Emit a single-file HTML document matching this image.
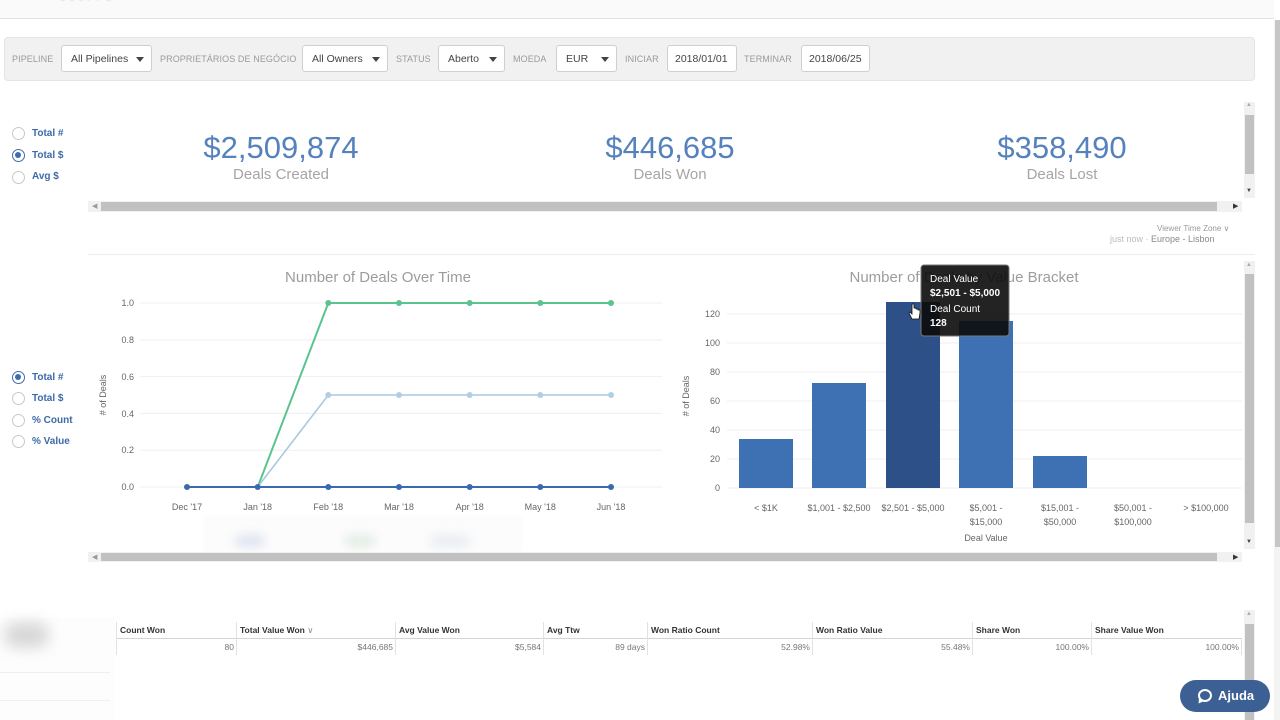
<!DOCTYPE html>
<html><head><meta charset="utf-8">
<style>
*{margin:0;padding:0;box-sizing:border-box}
body{width:1280px;height:720px;overflow:hidden;background:#fff;font-family:"Liberation Sans",Arial,sans-serif;position:relative}
.a{position:absolute}
.lbl{position:absolute;font-size:9px;color:#9a9a9a;top:54px;letter-spacing:0.1px}
.sel{position:absolute;top:45px;height:27px;background:#fff;border:1px solid #cfcfcf;border-radius:3px;font-size:10.5px;color:#444;line-height:26px;padding-left:9px}
.sel .c{position:absolute;right:7px;top:11px;width:0;height:0;border-left:4px solid transparent;border-right:4px solid transparent;border-top:5px solid #444}
.rad{position:absolute;left:12px;width:13px;height:13px;border:1px solid #c8c8c8;border-radius:50%;background:#fff}
.rad.on{border:1.5px solid #3d6db0}
.rad.on:after{content:"";position:absolute;left:2px;top:2px;width:6px;height:6px;border-radius:50%;background:#3d6db0}
.rl{position:absolute;left:32px;font-size:10px;font-weight:bold;color:#3d6aa8}
.big{position:absolute;width:300px;text-align:center;font-size:31px;color:#5582bd;top:130px}
.sub{position:absolute;width:300px;text-align:center;font-size:15px;color:#a5a5a5;top:166px}
.hs{position:absolute;left:88px;width:1154px;height:11px;background:#f1f1f1}
.hs .t{position:absolute;left:13px;right:25px;top:1px;bottom:1px;background:#c1c1c1}
.vs{position:absolute;left:1244px;width:11px;background:#f1f1f1}
.vs .t{position:absolute;left:1px;right:1px;background:#c1c1c1}
.th{position:absolute;top:622px;height:17px;font-size:8.5px;font-weight:bold;color:#333;line-height:17px;padding-left:3px;border-left:1px solid #e2e2e2}
.td{position:absolute;top:639px;height:16px;font-size:8.5px;color:#777;line-height:16px;text-align:right;padding-right:2px;border-left:1px solid #e2e2e2}
</style></head><body>

<!-- header -->
<div class="a" style="left:0;top:0;width:1274px;height:19px;background:#fafafa;border-bottom:1px solid #e2e2e2"></div>
<div class="a" style="left:60px;top:-11px;font-size:11px;color:#c4c4c4;filter:blur(0.8px)">g g  g   p  p    g</div>

<!-- filter bar -->
<div class="a" style="left:4px;top:37px;width:1251px;height:44px;background:#f1f1f1;border:1px solid #e4e4e4;border-radius:4px"></div>
<div class="lbl" style="left:12px">PIPELINE</div>
<div class="sel" style="left:61px;width:91px">All Pipelines<span class="c"></span></div>
<div class="lbl" style="left:160px">PROPRIETÁRIOS DE NEGÓCIO</div>
<div class="sel" style="left:302px;width:86px">All Owners<span class="c"></span></div>
<div class="lbl" style="left:396px">STATUS</div>
<div class="sel" style="left:438px;width:67px">Aberto<span class="c"></span></div>
<div class="lbl" style="left:513px">MOEDA</div>
<div class="sel" style="left:556px;width:61px">EUR<span class="c"></span></div>
<div class="lbl" style="left:625px">INICIAR</div>
<div class="sel" style="left:667px;width:70px;padding-left:7px">2018/01/01</div>
<div class="lbl" style="left:744px">TERMINAR</div>
<div class="sel" style="left:801px;width:69px;padding-left:7px">2018/06/25</div>

<!-- page scrollbar -->
<div class="a" style="left:1274px;top:20px;width:6px;height:700px;background:#f3f3f3"></div>
<div class="a" style="left:1275px;top:20px;width:5px;height:527px;background:#c6c6c6"></div>

<!-- radios group 1 -->
<div class="rad" style="top:127px"></div><div class="rl" style="top:128px">Total #</div>
<div class="rad on" style="top:149px"></div><div class="rl" style="top:150px">Total $</div>
<div class="rad" style="top:171px"></div><div class="rl" style="top:171px">Avg $</div>

<!-- summary numbers -->
<div class="big" style="left:131px">$2,509,874</div>
<div class="sub" style="left:131px">Deals Created</div>
<div class="big" style="left:520px">$446,685</div>
<div class="sub" style="left:520px">Deals Won</div>
<div class="big" style="left:912px">$358,490</div>
<div class="sub" style="left:912px">Deals Lost</div>

<div class="hs" style="top:201px"><div class="t"></div></div>
<div class="a" style="left:92px;top:202px;font-size:7px;color:#999">◀</div>
<div class="a" style="left:1233px;top:202px;font-size:7px;color:#333">▶</div>
<div class="vs" style="top:102px;height:96px"><div class="t" style="top:13px;bottom:24px"></div></div>
<div class="a" style="left:1246px;top:102px;font-size:6px;color:#aaa">▲</div>
<div class="a" style="left:1246px;top:188px;font-size:6px;color:#444">▼</div>

<!-- time zone -->
<div class="a" style="left:1157px;top:224px;font-size:8px;color:#999">Viewer Time Zone ∨</div>
<div class="a" style="left:1110px;top:234px;font-size:9px;color:#bbb">just now · <span style="color:#888">Europe - Lisbon</span></div>
<div class="a" style="left:88px;top:254px;width:1167px;height:1px;background:#ececec"></div>

<!-- radios group 2 -->
<div class="rad on" style="top:371px"></div><div class="rl" style="top:372px">Total #</div>
<div class="rad" style="top:392px"></div><div class="rl" style="top:393px">Total $</div>
<div class="rad" style="top:414px"></div><div class="rl" style="top:415px">% Count</div>
<div class="rad" style="top:435px"></div><div class="rl" style="top:436px">% Value</div>

<!-- blurred legend -->
<div class="a" style="left:204px;top:516px;width:318px;height:36px;background:#fcfcfc;filter:blur(1px)"></div>
<div class="a" style="left:235px;top:535px;width:30px;height:12px;border-radius:6px;background:#dde3f0;filter:blur(5px)"></div>
<div class="a" style="left:345px;top:535px;width:30px;height:12px;border-radius:6px;background:#e1ede4;filter:blur(5px)"></div>
<div class="a" style="left:430px;top:535px;width:40px;height:12px;border-radius:6px;background:#e8ecf2;filter:blur(5px)"></div>

<div class="hs" style="top:552px;height:10px"><div class="t"></div></div>
<div class="a" style="left:92px;top:553px;font-size:7px;color:#999">◀</div>
<div class="a" style="left:1233px;top:553px;font-size:7px;color:#333">▶</div>
<div class="vs" style="top:261px;height:288px"><div class="t" style="top:13px;bottom:26px"></div></div>
<div class="a" style="left:1246px;top:262px;font-size:6px;color:#aaa">▲</div>
<div class="a" style="left:1246px;top:539px;font-size:6px;color:#444">▼</div>

<svg class="a" style="left:0;top:0" width="1280" height="720" xmlns="http://www.w3.org/2000/svg" font-family="Liberation Sans, Arial, sans-serif">
 <!-- line chart -->
 <text x="378" y="282" text-anchor="middle" font-size="15" fill="#9c9c9c">Number of Deals Over Time</text>
 <g stroke="#efefef" stroke-width="1">
  <line x1="140" x2="662" y1="303" y2="303"/><line x1="140" x2="662" y1="340" y2="340"/>
  <line x1="140" x2="662" y1="376.6" y2="376.6"/><line x1="140" x2="662" y1="413.4" y2="413.4"/>
  <line x1="140" x2="662" y1="450.2" y2="450.2"/><line x1="140" x2="662" y1="487" y2="487"/>
 </g>
 <g font-size="9" fill="#666" text-anchor="end">
  <text x="134" y="306">1.0</text><text x="134" y="343">0.8</text><text x="134" y="380">0.6</text>
  <text x="134" y="417">0.4</text><text x="134" y="453">0.2</text><text x="134" y="490">0.0</text>
 </g>
 <text transform="translate(106,395) rotate(-90)" text-anchor="middle" font-size="9" fill="#666"># of Deals</text>
 <g font-size="9" fill="#666" text-anchor="middle">
  <text x="187" y="510">Dec '17</text><text x="257.7" y="510">Jan '18</text><text x="328.3" y="510">Feb '18</text>
  <text x="399" y="510">Mar '18</text><text x="469.7" y="510">Apr '18</text><text x="540.3" y="510">May '18</text><text x="611" y="510">Jun '18</text>
 </g>
 <polyline fill="none" stroke="#5ac48e" stroke-width="2" points="257.7,487 328.3,303 399,303 469.7,303 540.3,303 611,303"/>
 <g fill="#5ac48e"><circle cx="328.3" cy="303" r="3"/><circle cx="399" cy="303" r="3"/><circle cx="469.7" cy="303" r="3"/><circle cx="540.3" cy="303" r="3"/><circle cx="611" cy="303" r="3"/></g>
 <polyline fill="none" stroke="#a8c9e1" stroke-width="1.6" points="257.7,487 328.3,395 399,395 469.7,395 540.3,395 611,395"/>
 <g fill="#b0cfe5"><circle cx="328.3" cy="395" r="3"/><circle cx="399" cy="395" r="3"/><circle cx="469.7" cy="395" r="3"/><circle cx="540.3" cy="395" r="3"/><circle cx="611" cy="395" r="3"/></g>
 <line x1="187" x2="611" y1="487" y2="487" stroke="#3a69b0" stroke-width="2"/>
 <g fill="#3a69b0"><circle cx="187" cy="487" r="3"/><circle cx="257.7" cy="487" r="3"/><circle cx="328.3" cy="487" r="3"/><circle cx="399" cy="487" r="3"/><circle cx="469.7" cy="487" r="3"/><circle cx="540.3" cy="487" r="3"/><circle cx="611" cy="487" r="3"/></g>

 <!-- bar chart -->
 <text x="964" y="282" text-anchor="middle" font-size="15" fill="#9c9c9c">Number of Deals by Value Bracket</text>
 <g stroke="#efefef" stroke-width="1">
  <line x1="727" x2="1242" y1="314" y2="314"/><line x1="727" x2="1242" y1="343" y2="343"/>
  <line x1="727" x2="1242" y1="372" y2="372"/><line x1="727" x2="1242" y1="401" y2="401"/>
  <line x1="727" x2="1242" y1="430" y2="430"/><line x1="727" x2="1242" y1="459" y2="459"/>
  <line x1="727" x2="1242" y1="488" y2="488"/>
 </g>
 <g font-size="9" fill="#666" text-anchor="end">
  <text x="720" y="317">120</text><text x="720" y="346">100</text><text x="720" y="375">80</text>
  <text x="720" y="404">60</text><text x="720" y="433">40</text><text x="720" y="462">20</text><text x="720" y="491">0</text>
 </g>
 <text transform="translate(689,396) rotate(-90)" text-anchor="middle" font-size="9" fill="#666"># of Deals</text>
 <rect x="739" y="439" width="54" height="49" fill="#3e70b4"/>
 <rect x="812" y="383" width="54" height="105" fill="#3e70b4"/>
 <rect x="886" y="302" width="54" height="186" fill="#2d5089"/>
 <rect x="959" y="321" width="54" height="167" fill="#3e70b4"/>
 <rect x="1033" y="456" width="54" height="32" fill="#3e70b4"/>
 <g font-size="9" fill="#666" text-anchor="middle">
  <text x="766" y="511">&lt; $1K</text>
  <text x="839" y="511">$1,001 - $2,500</text>
  <text x="913" y="511">$2,501 - $5,000</text>
  <text x="986" y="511">$5,001 -</text><text x="986" y="525">$15,000</text>
  <text x="1060" y="511">$15,001 -</text><text x="1060" y="525">$50,000</text>
  <text x="1133" y="511">$50,001 -</text><text x="1133" y="525">$100,000</text>
  <text x="1206" y="511">&gt; $100,000</text>
  <text x="986" y="541">Deal Value</text>
 </g>
 <!-- cursor -->
 <path d="M912,304 l0,10 l-2,-2 l-1,1 l3,6 l7,0 l1,-6 l0,-3 l-2,0 l0,-1 l-2,0 l0,-1 l-2,0 l0,-4 z" fill="#fff" stroke="#111" stroke-width="0.8"/>
 <!-- tooltip -->
 <rect x="921" y="265" width="88" height="71" rx="3" fill="#0b0b0b" fill-opacity="0.9" stroke="#777" stroke-width="1"/>
 <g font-size="10" fill="#fff">
  <text x="930" y="282">Deal Value</text>
  <text x="930" y="296" font-weight="bold">$2,501 - $5,000</text>
  <text x="930" y="312">Deal Count</text>
  <text x="930" y="326" font-weight="bold">128</text>
 </g>
</svg>

<!-- table -->
<div class="a" style="left:0;top:618px;width:115px;height:102px;background:#fdfdfd"></div>
<div class="a" style="left:4px;top:622px;width:45px;height:26px;border-radius:12px;background:#d8d8d8;filter:blur(7px)"></div>
<div class="a" style="left:0;top:672px;width:110px;height:1px;background:#f0f0f0"></div>
<div class="a" style="left:0;top:700px;width:110px;height:1px;background:#f0f0f0"></div>
<div class="a" style="left:116px;top:638px;width:1126px;height:1px;background:#d4d4d4"></div>

<div class="th" style="left:116px;width:120px">Count Won</div>
<div class="th" style="left:236px;width:159px">Total Value Won <span style="font-weight:normal;color:#888">∨</span></div>
<div class="th" style="left:395px;width:148px">Avg Value Won</div>
<div class="th" style="left:543px;width:104px">Avg Ttw</div>
<div class="th" style="left:647px;width:165px">Won Ratio Count</div>
<div class="th" style="left:812px;width:160px">Won Ratio Value</div>
<div class="th" style="left:972px;width:119px">Share Won</div>
<div class="th" style="left:1091px;width:151px">Share Value Won</div>

<div class="td" style="left:116px;width:120px">80</div>
<div class="td" style="left:236px;width:159px">$446,685</div>
<div class="td" style="left:395px;width:148px">$5,584</div>
<div class="td" style="left:543px;width:104px">89 days</div>
<div class="td" style="left:647px;width:165px">52.98%</div>
<div class="td" style="left:812px;width:160px">55.48%</div>
<div class="td" style="left:972px;width:119px">100.00%</div>
<div class="td" style="left:1091px;width:151px;border-right:1px solid #e2e2e2">100.00%</div>

<div class="vs" style="top:610px;height:110px"><div class="t" style="top:14px;bottom:0"></div></div>
<div class="a" style="left:1246px;top:611px;font-size:6px;color:#aaa">▲</div>

<!-- help button -->
<div class="a" style="left:1180px;top:680px;width:90px;height:32px;border-radius:16px;background:#3c5f94"></div>
<div class="a" style="left:1198px;top:689px;width:14px;height:13px;border:2px solid #fff;border-radius:50%"></div>
<div class="a" style="left:1197px;top:699px;width:0;height:0;border-left:3px solid transparent;border-right:3px solid transparent;border-top:5px solid #fff;transform:rotate(35deg)"></div>
<div class="a" style="left:1218px;top:688px;font-size:13px;font-weight:bold;color:#fff">Ajuda</div>

</body></html>
